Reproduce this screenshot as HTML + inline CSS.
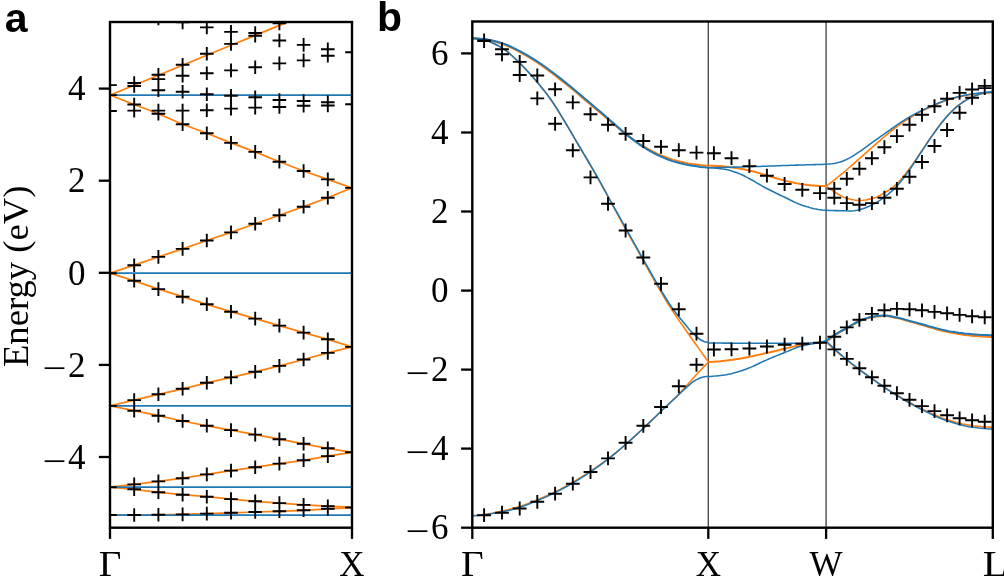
<!DOCTYPE html>
<html lang="en">
<head>
<meta charset="utf-8">
<title>Band structure figure</title>
<style>
html,body{margin:0;padding:0;background:#fff;}
body{width:1004px;height:578px;overflow:hidden;}
svg{display:block;}
</style>
</head>
<body>
<svg width="1004" height="578" viewBox="0 0 1004 578">
<defs><clipPath id="ca"><rect x="110" y="22" width="242" height="505.7"/></clipPath>
<clipPath id="cb"><rect x="472.3" y="21.5" width="520.5" height="506.2"/></clipPath></defs>
<rect width="1004" height="578" fill="#fff"/>
<g clip-path="url(#ca)">
<path d="M110 515 L134.2 515 L158.4 514.8 L182.6 514.4 L206.8 513.6 L231 512.8 L255.2 512 L279.4 511.3 L303.6 510.3 L327.8 508.9 L352 507.5" fill="none" stroke="#ff7f0e" stroke-width="1.75" stroke-linejoin="round" />
<path d="M110 487.2 L134.2 489.3 L158.4 492.3 L182.6 494.7 L206.8 496.7 L231 499.1 L255.2 501.3 L279.4 503.1 L303.6 504.9 L327.8 506.2 L352 507.5" fill="none" stroke="#ff7f0e" stroke-width="1.75" stroke-linejoin="round" />
<path d="M110 487.2 L134.2 484.4 L158.4 481.4 L182.6 478.2 L206.8 474.4 L231 470.6 L255.2 467.2 L279.4 463.6 L303.6 460.3 L327.8 456.1 L352 452.3" fill="none" stroke="#ff7f0e" stroke-width="1.75" stroke-linejoin="round" />
<path d="M110 405.9 L134.2 410.7 L158.4 415.7 L182.6 421 L206.8 425.8 L231 430.1 L255.2 434.6 L279.4 439.2 L303.6 443.8 L327.8 448.3 L352 452.3" fill="none" stroke="#ff7f0e" stroke-width="1.75" stroke-linejoin="round" />
<path d="M110 405.9 L134.2 400.1 L158.4 394.3 L182.6 388.8 L206.8 382.8 L231 377.4 L255.2 371.8 L279.4 365.9 L303.6 359.5 L327.8 352.9 L352 346.9" fill="none" stroke="#ff7f0e" stroke-width="1.75" stroke-linejoin="round" />
<path d="M110 273.2 L134.2 280.8 L158.4 289.1 L182.6 296.7 L206.8 304.3 L231 311.7 L255.2 318.6 L279.4 325.6 L303.6 332.6 L327.8 339.3 L352 346.9" fill="none" stroke="#ff7f0e" stroke-width="1.75" stroke-linejoin="round" />
<path d="M110 273.2 L134.2 265.2 L158.4 256.9 L182.6 248.9 L206.8 240.5 L231 232.4 L255.2 223.8 L279.4 215.2 L303.6 206.7 L327.8 197.7 L352 187.9" fill="none" stroke="#ff7f0e" stroke-width="1.75" stroke-linejoin="round" />
<path d="M110 95.1 L134.2 104.5 L158.4 113.8 L182.6 124.2 L206.8 133.3 L231 142.9 L255.2 151.9 L279.4 161.8 L303.6 171 L327.8 179.4 L352 187.9" fill="none" stroke="#ff7f0e" stroke-width="1.75" stroke-linejoin="round" />
<path d="M110 95.1 L134.2 85.2 L158.4 75.2 L182.6 65.2 L206.8 55.3 L231 45.3 L255.2 35.4 L279.4 25.4 L303.6 15.5 L327.8 5.5 L352 -4.5" fill="none" stroke="#ff7f0e" stroke-width="1.75" stroke-linejoin="round" />
<path d="M110 95.1 L352 95.1" fill="none" stroke="#1f77b4" stroke-width="1.75" stroke-linejoin="round" />
<path d="M110 273.2 L352 273.2" fill="none" stroke="#1f77b4" stroke-width="1.75" stroke-linejoin="round" />
<path d="M110 405.9 L352 405.9" fill="none" stroke="#1f77b4" stroke-width="1.75" stroke-linejoin="round" />
<path d="M110 487.2 L352 487.2" fill="none" stroke="#1f77b4" stroke-width="1.75" stroke-linejoin="round" />
<path d="M110 515 L352 515" fill="none" stroke="#1f77b4" stroke-width="1.75" stroke-linejoin="round" />
<path d="M103.2 515h13.6M110 508.2v13.6M127.4 515h13.6M134.2 508.2v13.6M151.6 514.8h13.6M158.4 508v13.6M175.8 514.4h13.6M182.6 507.6v13.6M200 513.6h13.6M206.8 506.8v13.6M224.2 512.8h13.6M231 506v13.6M248.4 512h13.6M255.2 505.2v13.6M272.6 511.3h13.6M279.4 504.5v13.6M296.8 510.3h13.6M303.6 503.5v13.6M321 508.9h13.6M327.8 502.1v13.6M345.2 507.5h13.6M352 500.7v13.6M103.2 487.2h13.6M110 480.4v13.6M127.4 489.3h13.6M134.2 482.5v13.6M151.6 492.3h13.6M158.4 485.5v13.6M175.8 494.7h13.6M182.6 487.9v13.6M200 496.7h13.6M206.8 489.9v13.6M224.2 499.1h13.6M231 492.3v13.6M248.4 501.3h13.6M255.2 494.5v13.6M272.6 503.1h13.6M279.4 496.3v13.6M296.8 504.9h13.6M303.6 498.1v13.6M321 506.2h13.6M327.8 499.4v13.6M345.2 507.5h13.6M352 500.7v13.6M103.2 487.2h13.6M110 480.4v13.6M127.4 484.4h13.6M134.2 477.6v13.6M151.6 481.4h13.6M158.4 474.6v13.6M175.8 478.2h13.6M182.6 471.4v13.6M200 474.4h13.6M206.8 467.6v13.6M224.2 470.6h13.6M231 463.8v13.6M248.4 467.2h13.6M255.2 460.4v13.6M272.6 463.6h13.6M279.4 456.8v13.6M296.8 460.3h13.6M303.6 453.5v13.6M321 456.1h13.6M327.8 449.3v13.6M345.2 452.3h13.6M352 445.5v13.6M103.2 405.9h13.6M110 399.1v13.6M127.4 410.7h13.6M134.2 403.9v13.6M151.6 415.7h13.6M158.4 408.9v13.6M175.8 421h13.6M182.6 414.2v13.6M200 425.8h13.6M206.8 419v13.6M224.2 430.1h13.6M231 423.3v13.6M248.4 434.6h13.6M255.2 427.8v13.6M272.6 439.2h13.6M279.4 432.4v13.6M296.8 443.8h13.6M303.6 437v13.6M321 448.3h13.6M327.8 441.5v13.6M345.2 452.3h13.6M352 445.5v13.6M103.2 405.9h13.6M110 399.1v13.6M127.4 400.1h13.6M134.2 393.3v13.6M151.6 394.3h13.6M158.4 387.5v13.6M175.8 388.8h13.6M182.6 382v13.6M200 382.8h13.6M206.8 376v13.6M224.2 377.4h13.6M231 370.6v13.6M248.4 371.8h13.6M255.2 365v13.6M272.6 365.9h13.6M279.4 359.1v13.6M296.8 359.5h13.6M303.6 352.7v13.6M321 352.9h13.6M327.8 346.1v13.6M345.2 346.9h13.6M352 340.1v13.6M103.2 273.2h13.6M110 266.4v13.6M127.4 280.8h13.6M134.2 274v13.6M151.6 289.1h13.6M158.4 282.3v13.6M175.8 296.7h13.6M182.6 289.9v13.6M200 304.3h13.6M206.8 297.5v13.6M224.2 311.7h13.6M231 304.9v13.6M248.4 318.6h13.6M255.2 311.8v13.6M272.6 325.6h13.6M279.4 318.8v13.6M296.8 332.6h13.6M303.6 325.8v13.6M321 339.3h13.6M327.8 332.5v13.6M345.2 346.9h13.6M352 340.1v13.6M103.2 273.2h13.6M110 266.4v13.6M127.4 265.2h13.6M134.2 258.4v13.6M151.6 256.9h13.6M158.4 250.1v13.6M175.8 248.9h13.6M182.6 242.1v13.6M200 240.5h13.6M206.8 233.7v13.6M224.2 232.4h13.6M231 225.6v13.6M248.4 223.8h13.6M255.2 217v13.6M272.6 215.2h13.6M279.4 208.4v13.6M296.8 206.7h13.6M303.6 199.9v13.6M321 197.7h13.6M327.8 190.9v13.6M345.2 187.9h13.6M352 181.1v13.6M103.2 95.1h13.6M110 88.3v13.6M127.4 104.5h13.6M134.2 97.7v13.6M151.6 113.8h13.6M158.4 107v13.6M175.8 124.2h13.6M182.6 117.4v13.6M200 133.3h13.6M206.8 126.5v13.6M224.2 142.9h13.6M231 136.1v13.6M248.4 151.9h13.6M255.2 145.1v13.6M272.6 161.8h13.6M279.4 155v13.6M296.8 171h13.6M303.6 164.2v13.6M321 179.4h13.6M327.8 172.6v13.6M345.2 187.9h13.6M352 181.1v13.6M103.2 111h13.6M110 104.2v13.6M127.4 110.6h13.6M134.2 103.8v13.6M151.6 110.6h13.6M158.4 103.8v13.6M175.8 110.6h13.6M182.6 103.8v13.6M200 110.2h13.6M206.8 103.4v13.6M224.2 108.6h13.6M231 101.8v13.6M248.4 107.6h13.6M255.2 100.8v13.6M272.6 107h13.6M279.4 100.2v13.6M296.8 105.8h13.6M303.6 99v13.6M321 105.5h13.6M327.8 98.7v13.6M345.2 104.2h13.6M352 97.4v13.6M103.2 95.1h13.6M110 88.3v13.6M151.6 90.3h13.6M158.4 83.5v13.6M175.8 91.7h13.6M182.6 84.9v13.6M200 94.3h13.6M206.8 87.5v13.6M224.2 95.7h13.6M231 88.9v13.6M248.4 97.3h13.6M255.2 90.5v13.6M272.6 100h13.6M279.4 93.2v13.6M296.8 101h13.6M303.6 94.2v13.6M321 102.2h13.6M327.8 95.4v13.6M345.2 104.2h13.6M352 97.4v13.6M103.2 85.1h13.6M110 78.3v13.6M127.4 83h13.6M134.2 76.2v13.6M151.6 79.1h13.6M158.4 72.3v13.6M175.8 75.8h13.6M182.6 69v13.6M200 73.2h13.6M206.8 66.4v13.6M224.2 70.4h13.6M231 63.6v13.6M248.4 67.2h13.6M255.2 60.4v13.6M272.6 63.4h13.6M279.4 56.6v13.6M296.8 60.4h13.6M303.6 53.6v13.6M321 55.8h13.6M327.8 49v13.6M345.2 52.3h13.6M352 45.5v13.6M151.6 18.4h13.6M158.4 11.6v13.6M175.8 22.4h13.6M182.6 15.6v13.6M200 27.4h13.6M206.8 20.6v13.6M224.2 31.9h13.6M231 25.1v13.6M248.4 35.8h13.6M255.2 29v13.6M272.6 40.5h13.6M279.4 33.7v13.6M296.8 44.9h13.6M303.6 38.1v13.6M321 49.3h13.6M327.8 42.5v13.6M345.2 52.3h13.6M352 45.5v13.6M127.4 86h13.6M134.2 79.2v13.6M151.6 74.8h13.6M158.4 68v13.6M175.8 64.8h13.6M182.6 58v13.6M200 53.8h13.6M206.8 47v13.6M224.2 43.9h13.6M231 37.1v13.6M248.4 33h13.6M255.2 26.2v13.6M272.6 23.4h13.6M279.4 16.6v13.6" fill="none" stroke="#000" stroke-width="1.9"/>
</g>
<g clip-path="url(#cb)">
<line x1="708.3" y1="21.5" x2="708.3" y2="527.7" stroke="#4d4d4d" stroke-width="1.4"/>
<line x1="826.1" y1="21.5" x2="826.1" y2="527.7" stroke="#4d4d4d" stroke-width="1.4"/>
<path d="M472.3 38.3 L476.3 38.5 L480.3 38.9 L484.3 39.3 L488.3 40 L492.3 40.9 L496.3 42 L500.3 43.3 L504.3 44.6 L508.3 46.3 L512.3 48.2 L516.3 50.2 L520.3 52.3 L524.3 54.5 L528.3 56.9 L532.4 59.4 L536.4 61.9 L540.4 64.6 L544.4 67.5 L548.4 70.4 L552.4 73.4 L556.4 76.4 L560.4 79.6 L564.4 82.8 L568.4 86 L572.4 89.3 L576.4 92.6 L580.4 96 L584.4 99.4 L588.4 102.8 L592.4 106.2 L596.4 109.6 L600.4 113 L604.4 116.3 L608.4 119.7 L612.4 123.1 L616.4 126.6 L620.4 129.9 L624.4 133.1 L628.4 136.2 L632.4 139.1 L636.4 141.9 L640.4 144.5 L644.4 146.9 L648.4 149.2 L652.5 151.4 L656.5 153.4 L660.5 155.2 L664.5 156.8 L668.5 158.3 L672.5 159.6 L676.5 160.7 L680.5 161.7 L684.5 162.6 L688.5 163.4 L692.5 164.1 L696.5 164.6 L700.5 165.1 L704.5 165.4 L708.5 165.7" fill="none" stroke="#ff7f0e" stroke-width="2.0" stroke-linejoin="round" />
<path d="M472.3 38.3 L476.3 38.6 L480.3 39.2 L484.3 39.9 L488.3 41.1 L492.3 42.7 L496.3 44.7 L500.3 46.9 L504.3 49.4 L508.3 52.4 L512.3 56 L516.3 59.8 L520.3 63.6 L524.3 67.7 L528.3 72 L532.4 76.5 L536.4 81.2 L540.4 86 L544.4 90.9 L548.4 96.1 L552.4 101.8 L556.4 108 L560.4 114.6 L564.4 121.2 L568.4 127.9 L572.4 134.8 L576.4 141.6 L580.4 148.5 L584.4 155.2 L588.4 162 L592.4 168.8 L596.4 175.8 L600.4 182.9 L604.4 190.2 L608.4 197.6 L612.4 204.9 L616.4 212.2 L620.4 219.5 L624.4 226.8 L628.4 234 L632.4 241.1 L636.4 248.2 L640.4 255.3 L644.4 262.5 L648.4 269.9 L652.5 277.2 L656.5 284.3 L660.5 291.2 L664.5 298 L668.5 304.6 L672.5 310.9 L676.5 316.9 L680.5 322.6 L684.5 328.3 L688.5 334 L692.5 339.7 L696.5 345.3 L700.5 350.9 L704.5 356.5 L708.5 362" fill="none" stroke="#ff7f0e" stroke-width="1.6" stroke-linejoin="round" />
<path d="M472.3 515.8 L476.3 515.5 L480.3 515.1 L484.3 514.6 L488.3 513.9 L492.3 513.2 L496.3 512.4 L500.3 511.5 L504.3 510.6 L508.3 509.7 L512.3 508.6 L516.3 507.5 L520.3 506.3 L524.3 504.9 L528.3 503.4 L532.4 501.8 L536.4 500.2 L540.4 498.5 L544.4 496.8 L548.4 495 L552.4 493.1 L556.4 491.1 L560.4 489.1 L564.4 487 L568.4 484.8 L572.4 482.5 L576.4 480.2 L580.4 477.8 L584.4 475.3 L588.4 472.7 L592.4 470 L596.4 467.3 L600.4 464.5 L604.4 461.6 L608.4 458.6 L612.4 455.5 L616.4 452.3 L620.4 448.9 L624.4 445.5 L628.4 442 L632.4 438.5 L636.4 434.8 L640.4 431.2 L644.4 427.4 L648.4 423.6 L652.5 419.7 L656.5 415.7 L660.5 411.8 L664.5 408 L668.5 404.2 L672.5 400.5 L676.5 396.6 L680.5 392.4 L684.5 388 L688.5 383.5 L692.5 379 L696.5 374.5 L700.5 370.2 L704.5 366.1 L708.5 362" fill="none" stroke="#ff7f0e" stroke-width="1.6" stroke-linejoin="round" />
<path d="M708.5 165.7 L710.5 165.7 L712.5 165.8 L714.5 165.8 L716.5 165.9 L718.5 166 L720.5 166.1 L722.5 166.3 L724.4 166.5 L726.4 166.7 L728.4 166.9 L730.4 167.2 L732.4 167.4 L734.4 167.7 L736.4 168 L738.4 168.3 L740.4 168.7 L742.4 169.1 L744.4 169.4 L746.4 169.9 L748.4 170.3 L750.4 170.7 L752.4 171.2 L754.3 171.7 L756.3 172.3 L758.3 172.9 L760.3 173.5 L762.3 174.1 L764.3 174.7 L766.3 175.3 L768.3 175.9 L770.3 176.5 L772.3 177.1 L774.3 177.7 L776.3 178.2 L778.3 178.8 L780.3 179.4 L782.2 179.9 L784.2 180.4 L786.2 180.9 L788.2 181.4 L790.2 181.8 L792.2 182.3 L794.2 182.7 L796.2 183.2 L798.2 183.5 L800.2 183.9 L802.2 184.2 L804.2 184.5 L806.2 184.7 L808.2 185 L810.2 185.2 L812.1 185.4 L814.1 185.5 L816.1 185.7 L818.1 185.8 L820.1 185.9 L822.1 186 L824.1 186.1 L826.1 186.2" fill="none" stroke="#ff7f0e" stroke-width="2.0" stroke-linejoin="round" />
<path d="M708.5 362 L710.5 361.9 L712.5 361.8 L714.5 361.7 L716.5 361.6 L718.5 361.4 L720.5 361.2 L722.5 360.9 L724.4 360.7 L726.4 360.4 L728.4 360.2 L730.4 359.9 L732.4 359.7 L734.4 359.4 L736.4 359.1 L738.4 358.9 L740.4 358.5 L742.4 358.2 L744.4 357.8 L746.4 357.4 L748.4 357 L750.4 356.6 L752.4 356.2 L754.3 355.7 L756.3 355.3 L758.3 354.9 L760.3 354.4 L762.3 354 L764.3 353.5 L766.3 353.1 L768.3 352.6 L770.3 352.2 L772.3 351.7 L774.3 351.2 L776.3 350.7 L778.3 350.3 L780.3 349.8 L782.2 349.3 L784.2 348.8 L786.2 348.4 L788.2 347.9 L790.2 347.4 L792.2 346.9 L794.2 346.4 L796.2 345.9 L798.2 345.5 L800.2 345.2 L802.2 344.8 L804.2 344.6 L806.2 344.3 L808.2 344 L810.2 343.8 L812.1 343.5 L814.1 343.3 L816.1 343.1 L818.1 342.8 L820.1 342.6 L822.1 342.4 L824.1 342.2 L826.1 342" fill="none" stroke="#ff7f0e" stroke-width="2.0" stroke-linejoin="round" />
<path d="M826.1 186.2 L828.9 184.1 L831.8 182 L834.6 179.8 L837.4 177.5 L840.2 175.2 L843.1 172.9 L845.9 170.5 L848.7 168 L851.5 165.6 L854.4 163.2 L857.2 160.7 L860 158.2 L862.8 155.7 L865.7 153.2 L868.5 150.7 L871.3 148.2 L874.1 145.7 L877 143.2 L879.8 140.7 L882.6 138.2 L885.4 135.8 L888.3 133.5 L891.1 131.2 L893.9 129 L896.7 126.8 L899.6 124.8 L902.4 122.8 L905.2 120.8 L908 119 L910.9 117.2 L913.7 115.6 L916.5 114 L919.3 112.4 L922.2 111 L925 109.6 L927.8 108.2 L930.6 106.9 L933.5 105.6 L936.3 104.4 L939.1 103.2 L941.9 102.1 L944.8 101 L947.6 100 L950.4 99.1 L953.2 98.3 L956.1 97.6 L958.9 96.9 L961.7 96.3 L964.5 95.7 L967.4 95.1 L970.2 94.6 L973 94.2 L975.8 93.8 L978.7 93.5 L981.5 93.2 L984.3 92.9 L987.1 92.7 L990 92.5 L992.8 92.3" fill="none" stroke="#ff7f0e" stroke-width="1.6" stroke-linejoin="round" />
<path d="M826.1 186.2 L828.9 188.3 L831.8 190.2 L834.6 192 L837.4 193.7 L840.2 195.4 L843.1 196.9 L845.9 198.1 L848.7 198.8 L851.5 199.5 L854.4 200 L857.2 200.4 L860 200.5 L862.8 200.3 L865.7 200 L868.5 199.4 L871.3 198.8 L874.1 198 L877 196.9 L879.8 195.5 L882.6 193.9 L885.4 192.3 L888.3 190.5 L891.1 188.5 L893.9 186.3 L896.7 183.8 L899.6 181 L902.4 177.8 L905.2 174.3 L908 170.6 L910.9 166.8 L913.7 162.8 L916.5 158.7 L919.3 154.4 L922.2 150.3 L925 146.1 L927.8 141.8 L930.6 137.6 L933.5 133.6 L936.3 129.7 L939.1 125.9 L941.9 122.2 L944.8 118.7 L947.6 115.6 L950.4 112.6 L953.2 109.8 L956.1 107.2 L958.9 104.9 L961.7 102.8 L964.5 101 L967.4 99.3 L970.2 97.8 L973 96.6 L975.8 95.5 L978.7 94.5 L981.5 93.7 L984.3 93.1 L987.1 92.8 L990 92.6 L992.8 92.5" fill="none" stroke="#ff7f0e" stroke-width="1.6" stroke-linejoin="round" />
<path d="M826.1 342 L828.9 339.6 L831.8 337.4 L834.6 335.3 L837.4 333.6 L840.2 332 L843.1 330.4 L845.9 328.9 L848.7 327.3 L851.5 325.6 L854.4 323.9 L857.2 322.4 L860 321.1 L862.8 319.9 L865.7 318.9 L868.5 318 L871.3 317.3 L874.1 316.9 L877 316.5 L879.8 316.2 L882.6 316 L885.4 316 L888.3 316.3 L891.1 316.8 L893.9 317.4 L896.7 318 L899.6 318.6 L902.4 319.3 L905.2 320.2 L908 321 L910.9 321.8 L913.7 322.6 L916.5 323.4 L919.3 324.2 L922.2 325 L925 325.9 L927.8 326.8 L930.6 327.6 L933.5 328.4 L936.3 329.2 L939.1 330 L941.9 330.7 L944.8 331.4 L947.6 332.1 L950.4 332.6 L953.2 333.1 L956.1 333.6 L958.9 334 L961.7 334.5 L964.5 334.9 L967.4 335.3 L970.2 335.6 L973 335.9 L975.8 336.1 L978.7 336.3 L981.5 336.5 L984.3 336.6 L987.1 336.8 L990 336.9 L992.8 337" fill="none" stroke="#ff7f0e" stroke-width="2.0" stroke-linejoin="round" />
<path d="M826.1 342 L828.9 344.6 L831.8 347.2 L834.6 349.7 L837.4 352.2 L840.2 354.6 L843.1 357 L845.9 359.3 L848.7 361.6 L851.5 363.8 L854.4 366 L857.2 368.1 L860 370.2 L862.8 372.2 L865.7 374.3 L868.5 376.3 L871.3 378.2 L874.1 380.2 L877 382.2 L879.8 384.1 L882.6 386 L885.4 387.9 L888.3 389.8 L891.1 391.6 L893.9 393.4 L896.7 395.1 L899.6 396.8 L902.4 398.5 L905.2 400.1 L908 401.7 L910.9 403.2 L913.7 404.8 L916.5 406.2 L919.3 407.7 L922.2 409 L925 410.4 L927.8 411.7 L930.6 413.1 L933.5 414.4 L936.3 415.6 L939.1 416.8 L941.9 417.9 L944.8 418.9 L947.6 419.8 L950.4 420.6 L953.2 421.5 L956.1 422.3 L958.9 423 L961.7 423.7 L964.5 424.3 L967.4 424.9 L970.2 425.3 L973 425.7 L975.8 426 L978.7 426.3 L981.5 426.6 L984.3 426.8 L987.1 427 L990 427.1 L992.8 427.2" fill="none" stroke="#ff7f0e" stroke-width="1.6" stroke-linejoin="round" />
<path d="M472.3 38.3 L476.3 38.4 L480.3 38.7 L484.3 39.1 L488.3 39.7 L492.3 40.5 L496.3 41.5 L500.3 42.6 L504.3 43.9 L508.3 45.5 L512.3 47.3 L516.3 49.4 L520.3 51.4 L524.3 53.6 L528.3 55.9 L532.4 58.3 L536.4 60.9 L540.4 63.5 L544.4 66.3 L548.4 69.2 L552.4 72.2 L556.4 75.2 L560.4 78.4 L564.4 81.6 L568.4 84.8 L572.4 88.1 L576.4 91.4 L580.4 94.8 L584.4 98.2 L588.4 101.6 L592.4 105 L596.4 108.4 L600.4 111.8 L604.4 115.3 L608.4 118.7 L612.4 122.3 L616.4 125.8 L620.4 129.3 L624.4 132.7 L628.4 135.9 L632.4 139.1 L636.4 142.2 L640.4 145.1 L644.4 147.7 L648.4 150.1 L652.5 152.4 L656.5 154.5 L660.5 156.4 L664.5 158.1 L668.5 159.7 L672.5 161.1 L676.5 162.3 L680.5 163.3 L684.5 164.2 L688.5 165 L692.5 165.7 L696.5 166.3 L700.5 166.9 L704.5 167.3 L708.5 167.7" fill="none" stroke="#1f77b4" stroke-width="2.0" stroke-linejoin="round" />
<path d="M472.3 38.3 L476.3 38.6 L480.3 39.2 L484.3 39.9 L488.3 41.1 L492.3 42.7 L496.3 44.7 L500.3 46.9 L504.3 49.4 L508.3 52.4 L512.3 56 L516.3 59.8 L520.3 63.6 L524.3 67.7 L528.3 72 L532.4 76.5 L536.4 81.2 L540.4 86 L544.4 90.9 L548.4 96.2 L552.4 101.8 L556.4 107.9 L560.4 114.4 L564.4 121 L568.4 127.7 L572.4 134.4 L576.4 141.3 L580.4 148 L584.4 154.8 L588.4 161.5 L592.4 168.3 L596.4 175.2 L600.4 182.3 L604.4 189.6 L608.4 197 L612.4 204.3 L616.4 211.5 L620.4 218.7 L624.4 225.9 L628.4 233 L632.4 240.1 L636.4 247.2 L640.4 254.3 L644.4 261.3 L648.4 268.5 L652.5 275.6 L656.5 282.6 L660.5 289.3 L664.5 296 L668.5 302.5 L672.5 308.5 L676.5 313.8 L680.5 318.8 L684.5 323.6 L688.5 328.4 L692.5 332.9 L696.5 336.7 L700.5 339.8 L704.5 341.8 L708.5 342.6" fill="none" stroke="#1f77b4" stroke-width="1.55" stroke-linejoin="round" />
<path d="M472.3 515.8 L476.3 515.5 L480.3 515.2 L484.3 514.8 L488.3 514.2 L492.3 513.6 L496.3 512.9 L500.3 512.1 L504.3 511.3 L508.3 510.4 L512.3 509.4 L516.3 508.3 L520.3 507.1 L524.3 505.7 L528.3 504.2 L532.4 502.6 L536.4 501 L540.4 499.3 L544.4 497.6 L548.4 495.8 L552.4 493.9 L556.4 491.9 L560.4 489.9 L564.4 487.7 L568.4 485.5 L572.4 483.2 L576.4 480.9 L580.4 478.4 L584.4 475.8 L588.4 473.2 L592.4 470.5 L596.4 467.7 L600.4 464.9 L604.4 461.9 L608.4 458.8 L612.4 455.7 L616.4 452.4 L620.4 449 L624.4 445.5 L628.4 442 L632.4 438.4 L636.4 434.7 L640.4 431 L644.4 427.2 L648.4 423.4 L652.5 419.5 L656.5 415.7 L660.5 411.8 L664.5 408 L668.5 404.3 L672.5 400.5 L676.5 396.8 L680.5 393 L684.5 389.2 L688.5 385.6 L692.5 382.2 L696.5 379.6 L700.5 377.7 L704.5 376.8 L708.5 376.3" fill="none" stroke="#1f77b4" stroke-width="1.55" stroke-linejoin="round" />
<path d="M708.5 167.7 L710.5 167.7 L712.5 167.6 L714.5 167.6 L716.5 167.5 L718.5 167.5 L720.5 167.4 L722.5 167.4 L724.4 167.4 L726.4 167.3 L728.4 167.3 L730.4 167.2 L732.4 167.2 L734.4 167.1 L736.4 167.1 L738.4 167 L740.4 167 L742.4 166.9 L744.4 166.9 L746.4 166.8 L748.4 166.7 L750.4 166.7 L752.4 166.6 L754.3 166.6 L756.3 166.5 L758.3 166.4 L760.3 166.4 L762.3 166.3 L764.3 166.2 L766.3 166.2 L768.3 166.1 L770.3 166 L772.3 166 L774.3 165.9 L776.3 165.8 L778.3 165.7 L780.3 165.7 L782.2 165.6 L784.2 165.5 L786.2 165.5 L788.2 165.4 L790.2 165.3 L792.2 165.2 L794.2 165.2 L796.2 165.1 L798.2 165.1 L800.2 165 L802.2 164.9 L804.2 164.9 L806.2 164.8 L808.2 164.8 L810.2 164.7 L812.1 164.7 L814.1 164.6 L816.1 164.6 L818.1 164.5 L820.1 164.4 L822.1 164.4 L824.1 164.3 L826.1 164.3" fill="none" stroke="#1f77b4" stroke-width="1.55" stroke-linejoin="round" />
<path d="M708.5 167.7 L710.5 167.7 L712.5 167.8 L714.5 168 L716.5 168.2 L718.5 168.4 L720.5 168.7 L722.5 169 L724.4 169.2 L726.4 169.6 L728.4 170.1 L730.4 170.6 L732.4 171.2 L734.4 171.9 L736.4 172.6 L738.4 173.3 L740.4 174.1 L742.4 175 L744.4 176 L746.4 177.1 L748.4 178.1 L750.4 179.2 L752.4 180.3 L754.3 181.4 L756.3 182.6 L758.3 183.8 L760.3 184.9 L762.3 186.1 L764.3 187.2 L766.3 188.3 L768.3 189.3 L770.3 190.3 L772.3 191.3 L774.3 192.3 L776.3 193.3 L778.3 194.2 L780.3 195.2 L782.2 196.1 L784.2 197 L786.2 198 L788.2 199 L790.2 200 L792.2 201 L794.2 202 L796.2 202.9 L798.2 203.8 L800.2 204.6 L802.2 205.3 L804.2 205.9 L806.2 206.6 L808.2 207.1 L810.2 207.7 L812.1 208.2 L814.1 208.7 L816.1 209.1 L818.1 209.5 L820.1 209.7 L822.1 210 L824.1 210.2 L826.1 210.3" fill="none" stroke="#1f77b4" stroke-width="1.55" stroke-linejoin="round" />
<path d="M708.5 342.9 L710.5 342.9 L712.5 342.9 L714.5 343 L716.5 343 L718.5 343 L720.5 343 L722.5 343.1 L724.4 343.1 L726.4 343.1 L728.4 343.1 L730.4 343.1 L732.4 343.2 L734.4 343.2 L736.4 343.2 L738.4 343.2 L740.4 343.2 L742.4 343.2 L744.4 343.3 L746.4 343.3 L748.4 343.3 L750.4 343.3 L752.4 343.3 L754.3 343.3 L756.3 343.3 L758.3 343.3 L760.3 343.3 L762.3 343.3 L764.3 343.3 L766.3 343.3 L768.3 343.3 L770.3 343.3 L772.3 343.3 L774.3 343.3 L776.3 343.3 L778.3 343.3 L780.3 343.3 L782.2 343.3 L784.2 343.3 L786.2 343.3 L788.2 343.3 L790.2 343.3 L792.2 343.3 L794.2 343.3 L796.2 343.3 L798.2 343.3 L800.2 343.3 L802.2 343.3 L804.2 343.3 L806.2 343.2 L808.2 343.1 L810.2 343.1 L812.1 343 L814.1 342.8 L816.1 342.7 L818.1 342.5 L820.1 342.1 L822.1 341.7 L824.1 341.3 L826.1 340.8" fill="none" stroke="#1f77b4" stroke-width="1.55" stroke-linejoin="round" />
<path d="M708.5 376.4 L710.5 376.4 L712.5 376.2 L714.5 376.1 L716.5 375.9 L718.5 375.7 L720.5 375.5 L722.5 375.2 L724.4 374.9 L726.4 374.7 L728.4 374.3 L730.4 373.9 L732.4 373.4 L734.4 372.8 L736.4 372.3 L738.4 371.7 L740.4 371.1 L742.4 370.4 L744.4 369.7 L746.4 369 L748.4 368.2 L750.4 367.4 L752.4 366.6 L754.3 365.7 L756.3 364.7 L758.3 363.8 L760.3 362.8 L762.3 361.9 L764.3 361 L766.3 360.1 L768.3 359.2 L770.3 358.4 L772.3 357.5 L774.3 356.7 L776.3 355.9 L778.3 355.1 L780.3 354.3 L782.2 353.5 L784.2 352.7 L786.2 351.9 L788.2 351.1 L790.2 350.2 L792.2 349.4 L794.2 348.6 L796.2 347.8 L798.2 347.1 L800.2 346.4 L802.2 345.9 L804.2 345.4 L806.2 344.9 L808.2 344.5 L810.2 344.2 L812.1 343.8 L814.1 343.5 L816.1 343.1 L818.1 342.8 L820.1 342.4 L822.1 342.1 L824.1 341.8 L826.1 341.5" fill="none" stroke="#1f77b4" stroke-width="1.55" stroke-linejoin="round" />
<path d="M826.1 164.3 L828.9 164.1 L831.8 163.8 L834.6 163.4 L837.4 162.8 L840.2 162.1 L843.1 161.1 L845.9 159.8 L848.7 158.4 L851.5 156.8 L854.4 155.1 L857.2 153.2 L860 151.4 L862.8 149.4 L865.7 147.3 L868.5 145.2 L871.3 143.1 L874.1 141.1 L877 139.1 L879.8 137.1 L882.6 135.2 L885.4 133.2 L888.3 131.1 L891.1 129.1 L893.9 127.1 L896.7 125.1 L899.6 123.2 L902.4 121.4 L905.2 119.6 L908 117.9 L910.9 116.3 L913.7 114.7 L916.5 113.1 L919.3 111.7 L922.2 110.3 L925 108.9 L927.8 107.7 L930.6 106.4 L933.5 105.2 L936.3 104 L939.1 102.8 L941.9 101.7 L944.8 100.6 L947.6 99.6 L950.4 98.7 L953.2 97.9 L956.1 97.2 L958.9 96.5 L961.7 95.9 L964.5 95.3 L967.4 94.7 L970.2 94.2 L973 93.8 L975.8 93.4 L978.7 93.1 L981.5 92.8 L984.3 92.5 L987.1 92.3 L990 92.1 L992.8 91.9" fill="none" stroke="#1f77b4" stroke-width="1.55" stroke-linejoin="round" />
<path d="M826.1 210.3 L828.9 210.4 L831.8 210.5 L834.6 210.6 L837.4 210.6 L840.2 210.7 L843.1 210.8 L845.9 210.8 L848.7 210.9 L851.5 210.9 L854.4 210.7 L857.2 210.2 L860 209.6 L862.8 208.8 L865.7 207.7 L868.5 206.5 L871.3 205.1 L874.1 203.7 L877 202.1 L879.8 200.3 L882.6 198.4 L885.4 196.3 L888.3 194.1 L891.1 191.7 L893.9 189.1 L896.7 186.3 L899.6 183.1 L902.4 179.5 L905.2 175.7 L908 171.7 L910.9 167.7 L913.7 163.6 L916.5 159.3 L919.3 154.9 L922.2 150.7 L925 146.4 L927.8 142.1 L930.6 137.9 L933.5 133.9 L936.3 130 L939.1 126.1 L941.9 122.4 L944.8 118.9 L947.6 115.8 L950.4 112.8 L953.2 110 L956.1 107.4 L958.9 105.1 L961.7 103 L964.5 101.1 L967.4 99.4 L970.2 97.9 L973 96.6 L975.8 95.4 L978.7 94.4 L981.5 93.5 L984.3 92.9 L987.1 92.6 L990 92.4 L992.8 92.3" fill="none" stroke="#1f77b4" stroke-width="1.55" stroke-linejoin="round" />
<path d="M826.1 340.8 L828.9 338.7 L831.8 336.6 L834.6 334.8 L837.4 333.1 L840.2 331.5 L843.1 330 L845.9 328.5 L848.7 326.9 L851.5 325.2 L854.4 323.5 L857.2 322 L860 320.7 L862.8 319.5 L865.7 318.5 L868.5 317.6 L871.3 317 L874.1 316.5 L877 316.1 L879.8 315.7 L882.6 315.5 L885.4 315.5 L888.3 315.8 L891.1 316.3 L893.9 316.9 L896.7 317.5 L899.6 318.1 L902.4 318.8 L905.2 319.6 L908 320.4 L910.9 321.2 L913.7 321.9 L916.5 322.7 L919.3 323.5 L922.2 324.2 L925 325 L927.8 325.9 L930.6 326.7 L933.5 327.4 L936.3 328.2 L939.1 328.9 L941.9 329.6 L944.8 330.3 L947.6 330.9 L950.4 331.4 L953.2 331.8 L956.1 332.3 L958.9 332.7 L961.7 333 L964.5 333.4 L967.4 333.7 L970.2 334 L973 334.3 L975.8 334.5 L978.7 334.7 L981.5 334.9 L984.3 335 L987.1 335.1 L990 335.2 L992.8 335.3" fill="none" stroke="#1f77b4" stroke-width="2.0" stroke-linejoin="round" />
<path d="M826.1 341 L828.9 343.7 L831.8 346.4 L834.6 349 L837.4 351.6 L840.2 354.1 L843.1 356.5 L845.9 358.9 L848.7 361.2 L851.5 363.5 L854.4 365.7 L857.2 367.9 L860 370 L862.8 372.1 L865.7 374.2 L868.5 376.2 L871.3 378.2 L874.1 380.2 L877 382.3 L879.8 384.2 L882.6 386.2 L885.4 388.2 L888.3 390.1 L891.1 391.9 L893.9 393.7 L896.7 395.5 L899.6 397.2 L902.4 398.9 L905.2 400.6 L908 402.2 L910.9 403.8 L913.7 405.3 L916.5 406.9 L919.3 408.3 L922.2 409.7 L925 411.1 L927.8 412.5 L930.6 413.9 L933.5 415.2 L936.3 416.5 L939.1 417.7 L941.9 418.9 L944.8 419.9 L947.6 420.9 L950.4 421.8 L953.2 422.7 L956.1 423.6 L958.9 424.4 L961.7 425.1 L964.5 425.8 L967.4 426.4 L970.2 426.9 L973 427.3 L975.8 427.6 L978.7 428 L981.5 428.3 L984.3 428.6 L987.1 428.8 L990 428.9 L992.8 429" fill="none" stroke="#1f77b4" stroke-width="1.55" stroke-linejoin="round" />
<path d="M477.2 40.4h13.8M484.1 33.5v13.8M477.2 41h13.8M484.1 34.1v13.8M477.2 515.2h13.8M484.1 508.3v13.8M495.1 49.2h13.8M502 42.3v13.8M495.1 54.3h13.8M502 47.4v13.8M495.1 512.7h13.8M502 505.8v13.8M512.8 61.9h13.8M519.7 55v13.8M512.8 75h13.8M519.7 68.1v13.8M512.8 508.5h13.8M519.7 501.6v13.8M530.4 75.5h13.8M537.3 68.6v13.8M530.4 98.4h13.8M537.3 91.5v13.8M530.4 501.8h13.8M537.3 494.9v13.8M548.2 89.3h13.8M555.1 82.4v13.8M548.2 123.8h13.8M555.1 116.9v13.8M548.2 493.7h13.8M555.1 486.8v13.8M565.9 102.4h13.8M572.8 95.5v13.8M565.9 150.3h13.8M572.8 143.4v13.8M565.9 483.7h13.8M572.8 476.8v13.8M583.6 114.2h13.8M590.5 107.3v13.8M583.6 177.4h13.8M590.5 170.5v13.8M583.6 472h13.8M590.5 465.1v13.8M601.1 124.7h13.8M608 117.8v13.8M601.1 203.8h13.8M608 196.9v13.8M601.1 458.4h13.8M608 451.5v13.8M618.7 133.8h13.8M625.6 126.9v13.8M618.7 230.5h13.8M625.6 223.6v13.8M618.7 442.8h13.8M625.6 435.9v13.8M636.4 141h13.8M643.3 134.1v13.8M636.4 257.5h13.8M643.3 250.6v13.8M636.4 425.8h13.8M643.3 418.9v13.8M654.1 146.8h13.8M661 139.9v13.8M654.1 283.8h13.8M661 276.9v13.8M654.1 407h13.8M661 400.1v13.8M671.9 150.2h13.8M678.8 143.3v13.8M671.9 309.3h13.8M678.8 302.4v13.8M671.9 386.3h13.8M678.8 379.4v13.8M689.6 152.6h13.8M696.5 145.7v13.8M689.6 333.7h13.8M696.5 326.8v13.8M689.6 364.8h13.8M696.5 357.9v13.8M707 153.2h13.8M713.9 146.3v13.8M707 349.5h13.8M713.9 342.6v13.8M724.6 158.2h13.8M731.5 151.3v13.8M724.6 349.3h13.8M731.5 342.4v13.8M742.5 166.1h13.8M749.4 159.2v13.8M742.5 348.5h13.8M749.4 341.6v13.8M760 175.7h13.8M766.9 168.8v13.8M760 346.5h13.8M766.9 339.6v13.8M777.7 184h13.8M784.6 177.1v13.8M777.7 344.7h13.8M784.6 337.8v13.8M795.4 189.8h13.8M802.3 182.9v13.8M795.4 343.7h13.8M802.3 336.8v13.8M813.1 193.1h13.8M820 186.2v13.8M813.1 342.7h13.8M820 335.8v13.8M827.4 188.8h13.8M834.3 181.9v13.8M827.4 197.7h13.8M834.3 190.8v13.8M827.4 336.8h13.8M834.3 329.9v13.8M827.4 349.4h13.8M834.3 342.5v13.8M839.9 178.8h13.8M846.8 171.9v13.8M839.9 203.1h13.8M846.8 196.2v13.8M839.9 327.4h13.8M846.8 320.5v13.8M839.9 358.9h13.8M846.8 352v13.8M852.5 168.7h13.8M859.4 161.8v13.8M852.5 204.7h13.8M859.4 197.8v13.8M852.5 319.8h13.8M859.4 312.9v13.8M852.5 368.3h13.8M859.4 361.4v13.8M865 158.2h13.8M871.9 151.3v13.8M865 203.1h13.8M871.9 196.2v13.8M865 313.9h13.8M871.9 307v13.8M865 377.3h13.8M871.9 370.4v13.8M877.5 147.2h13.8M884.4 140.3v13.8M877.5 197.7h13.8M884.4 190.8v13.8M877.5 310.3h13.8M884.4 303.4v13.8M877.5 385.8h13.8M884.4 378.9v13.8M890 136.1h13.8M896.9 129.2v13.8M890 188.8h13.8M896.9 181.9v13.8M890 308.9h13.8M896.9 302v13.8M890 393.2h13.8M896.9 386.3v13.8M902.6 124.7h13.8M909.5 117.8v13.8M902.6 176.8h13.8M909.5 169.9v13.8M902.6 309.3h13.8M909.5 302.4v13.8M902.6 399.8h13.8M909.5 392.9v13.8M915.1 114.8h13.8M922 107.9v13.8M915.1 162h13.8M922 155.1v13.8M915.1 310.3h13.8M922 303.4v13.8M915.1 406.1h13.8M922 399.2v13.8M927.6 106.2h13.8M934.5 99.3v13.8M927.6 146h13.8M934.5 139.1v13.8M927.6 311.9h13.8M934.5 305v13.8M927.6 411.1h13.8M934.5 404.2v13.8M940.2 98.8h13.8M947.1 91.9v13.8M940.2 130h13.8M947.1 123.1v13.8M940.2 313.3h13.8M947.1 306.4v13.8M940.2 415.3h13.8M947.1 408.4v13.8M952.7 92.9h13.8M959.6 86v13.8M952.7 112.8h13.8M959.6 105.9v13.8M952.7 314.9h13.8M959.6 308v13.8M952.7 418.3h13.8M959.6 411.4v13.8M965.2 89.5h13.8M972.1 82.6v13.8M965.2 97.8h13.8M972.1 90.9v13.8M965.2 316.3h13.8M972.1 309.4v13.8M965.2 420.3h13.8M972.1 413.4v13.8M977.8 85.9h13.8M984.7 79v13.8M977.8 88.1h13.8M984.7 81.2v13.8M977.8 317.3h13.8M984.7 310.4v13.8M977.8 421.7h13.8M984.7 414.8v13.8" fill="none" stroke="#000" stroke-width="1.9"/>
</g>
<rect x="110" y="22" width="242" height="505.7" fill="none" stroke="#000" stroke-width="2.4"/>
<rect x="472.3" y="21.5" width="520.5" height="506.2" fill="none" stroke="#000" stroke-width="2.4"/>
<g font-family="'Liberation Serif', 'DejaVu Serif', serif" font-size="35" fill="#000">
<line x1="98.8" y1="88.6" x2="110" y2="88.6" stroke="#000" stroke-width="2.3"/>
<text x="85.5" y="100.3" text-anchor="end">4</text>
<line x1="98.8" y1="180.7" x2="110" y2="180.7" stroke="#000" stroke-width="2.3"/>
<text x="85.5" y="192.4" text-anchor="end">2</text>
<line x1="98.8" y1="272.8" x2="110" y2="272.8" stroke="#000" stroke-width="2.3"/>
<text x="85.5" y="284.5" text-anchor="end">0</text>
<line x1="98.8" y1="364.9" x2="110" y2="364.9" stroke="#000" stroke-width="2.3"/>
<text x="85.5" y="376.6" text-anchor="end">2</text>
<text x="42.4" y="380.4" textLength="24" lengthAdjust="spacingAndGlyphs">−</text>
<line x1="98.8" y1="457" x2="110" y2="457" stroke="#000" stroke-width="2.3"/>
<text x="85.5" y="468.7" text-anchor="end">4</text>
<text x="42.4" y="472.5" textLength="24" lengthAdjust="spacingAndGlyphs">−</text>
<line x1="461.1" y1="53.4" x2="472.3" y2="53.4" stroke="#000" stroke-width="2.3"/>
<text x="448.5" y="65.1" text-anchor="end">6</text>
<line x1="461.1" y1="132.5" x2="472.3" y2="132.5" stroke="#000" stroke-width="2.3"/>
<text x="448.5" y="144.2" text-anchor="end">4</text>
<line x1="461.1" y1="211.5" x2="472.3" y2="211.5" stroke="#000" stroke-width="2.3"/>
<text x="448.5" y="223.2" text-anchor="end">2</text>
<line x1="461.1" y1="290.6" x2="472.3" y2="290.6" stroke="#000" stroke-width="2.3"/>
<text x="448.5" y="302.2" text-anchor="end">0</text>
<line x1="461.1" y1="369.6" x2="472.3" y2="369.6" stroke="#000" stroke-width="2.3"/>
<text x="448.5" y="381.3" text-anchor="end">2</text>
<text x="405.4" y="385.1" textLength="24" lengthAdjust="spacingAndGlyphs">−</text>
<line x1="461.1" y1="448.6" x2="472.3" y2="448.6" stroke="#000" stroke-width="2.3"/>
<text x="448.5" y="460.3" text-anchor="end">4</text>
<text x="405.4" y="464.1" textLength="24" lengthAdjust="spacingAndGlyphs">−</text>
<line x1="461.1" y1="527.7" x2="472.3" y2="527.7" stroke="#000" stroke-width="2.3"/>
<text x="448.5" y="539.4" text-anchor="end">6</text>
<text x="405.4" y="543.2" textLength="24" lengthAdjust="spacingAndGlyphs">−</text>
</g>
<g font-family="'Liberation Serif', 'DejaVu Serif', serif" font-size="35" fill="#000">
<line x1="110" y1="527.7" x2="110" y2="538.9" stroke="#000" stroke-width="2.3"/>
<text x="110" y="575.5" text-anchor="middle" textLength="22.6" lengthAdjust="spacingAndGlyphs">Γ</text>
<line x1="352" y1="527.7" x2="352" y2="538.9" stroke="#000" stroke-width="2.3"/>
<text x="352" y="575.5" text-anchor="middle">X</text>
<line x1="472.3" y1="527.7" x2="472.3" y2="538.9" stroke="#000" stroke-width="2.3"/>
<text x="472.3" y="575.5" text-anchor="middle" textLength="22.6" lengthAdjust="spacingAndGlyphs">Γ</text>
<line x1="708.3" y1="527.7" x2="708.3" y2="538.9" stroke="#000" stroke-width="2.3"/>
<text x="708.3" y="575.5" text-anchor="middle">X</text>
<line x1="826.1" y1="527.7" x2="826.1" y2="538.9" stroke="#000" stroke-width="2.3"/>
<text x="826.1" y="575.5" text-anchor="middle">W</text>
<line x1="992.8" y1="527.7" x2="992.8" y2="538.9" stroke="#000" stroke-width="2.3"/>
<text x="982.7" y="575.5" textLength="25" lengthAdjust="spacingAndGlyphs">L</text>
<text transform="translate(27.8 276.3) rotate(-90)" text-anchor="middle" textLength="181.5" lengthAdjust="spacingAndGlyphs">Energy (eV)</text>
</g>
<g font-family="'Liberation Sans', 'DejaVu Sans', sans-serif" font-weight="bold" font-size="41" fill="#000">
<text x="4.7" y="31.5">a</text>
<text x="377" y="31.4">b</text>
</g>
</svg>
</body>
</html>
